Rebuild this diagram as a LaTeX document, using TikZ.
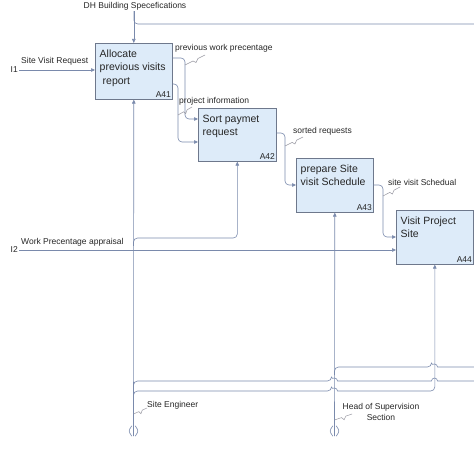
\documentclass[tikz,border=0pt]{standalone}
\usepackage{fontspec}
\setmainfont{Liberation Sans}
\usetikzlibrary{arrows.meta,calc}

\definecolor{boxfill}{RGB}{221,235,249}
\definecolor{boxline}{RGB}{110,120,140}
\definecolor{flowline}{RGB}{122,138,172}
\definecolor{squigline}{RGB}{150,150,160}

\tikzset{
  box/.style={draw=boxline, fill=boxfill, line width=0.6pt, minimum width=77pt, minimum height=54pt, inner sep=0pt, anchor=north west},
  boxtext/.style={anchor=north west, align=left, inner sep=0pt, text=black!85, font=\fontsize{10.5}{13.5}\selectfont},
  boxid/.style={anchor=south east, inner sep=1.5pt, text=black!85, font=\fontsize{8.5}{10}\selectfont},
  lbl/.style={inner sep=1pt, text=black!85, font=\fontsize{8.5}{11}\selectfont},
  feed/.style={draw=flowline, line width=0.6pt, rounded corners=4pt},
  flow/.style={feed, arrows={-Triangle[length=4pt,width=3.5pt,flowline]}},
  squig/.style={draw=squigline, line width=0.5pt},
  tun/.style={minimum width=6pt, minimum height=10pt, inner sep=0pt},
}
\newcommand{\zig}[2]{\draw[squig] (#1) -- ($(#1)!.4!(#2)$) -- ($(#1)!.55!(#2)+(0,3)$) -- ($(#1)!.65!(#2)$) -- (#2);}

\begin{document}
\begin{tikzpicture}[x=1pt,y=-1pt]
\useasboundingbox (0,0) rectangle (474,454);

% activities
\node[box, minimum height=56pt] (a41) at (95,43) {};
\node[box, minimum width=78pt, minimum height=53pt] (a42) at (198,108) {};
\node[box] (a43) at (296,158) {};
\node[box] (a44) at (396,210) {};
\node[boxtext] (t41) at ([xshift=4.5pt,yshift=-6.5pt]a41.north west) {Allocate\\previous visits\\\hspace{3pt}report};
\node[boxtext] (t42) at ([xshift=4.5pt,yshift=-6.5pt]a42.north west) {Sort paymet\\request};
\node[boxtext] (t43) at ([xshift=4.5pt,yshift=-6.5pt]a43.north west) {prepare Site\\visit Schedule};
\node[boxtext] (t44) at ([xshift=4.5pt,yshift=-6.5pt]a44.north west) {Visit Project\\Site};
\node[boxid] (n41) at (a41.south east) {A41};
\node[boxid] (n42) at (a42.south east) {A42};
\node[boxid] (n43) at (a43.south east) {A43};
\node[boxid] (n44) at (a44.south east) {A44};

% inputs
\node[lbl, anchor=east] (i1) at (19,70) {I1};
\node[lbl, anchor=west] (li1) at (20,61) {Site Visit Request};
\draw[flow] (i1.east) -- (a41.west |- i1.east);
\node[lbl, anchor=east] (i2) at (19,250) {I2};
\node[lbl, anchor=west] (li2) at (20,242) {Work Precentage appraisal};
\draw[flow] (i2.east) -- (a44.west |- i2.east);

% control
\node[lbl] (dh) at (135,6) {DH Building Specefications};
\coordinate (c0) at (474,24);
\draw[flow] (dh.south -| a41.north) -- (a41.north);
\draw[feed] (dh.south -| a41.north) |- (c0);

% outputs
\draw[flow] (a41.east |- 0,58) -| (185,119) -- (a42.west |- 0,119);
\draw[flow] (a41.east |- 0,84) -| (178,142) -- (a42.west |- 0,142);
\draw[flow] (a42.east |- 0,133) -| (285,185) -- (a43.west |- 0,185);
\draw[flow] (a43.east |- 0,185) -| (383,237) -- (a44.west |- 0,237);
\node[lbl, anchor=west] (o1) at (174,48) {previous work precentage};
\node[lbl, anchor=west] (o2) at (178,101) {project information};
\node[lbl, anchor=west] (o3) at (292,131) {sorted requests};
\node[lbl, anchor=west] (o4) at (387,182) {site visit Schedual};
\zig{185,65}{205,55}
\zig{178,115}{192,107}
\zig{285,146}{303,137}
\zig{383,196}{400,187}

% mechanisms
\node[tun] (se) at (133.5,431) {};
\node[tun] (hs) at (334.5,431) {};
\foreach \t in {se,hs} {
  \draw[feed] ([xshift=1.5pt]\t.north west) .. controls ([xshift=-2pt]\t.west) .. ([xshift=1.5pt]\t.south west);
  \draw[feed] ([xshift=-1.5pt]\t.north east) .. controls ([xshift=2pt]\t.east) .. ([xshift=-1.5pt]\t.south east);
}
\draw[flow] (se.south) -- (a41.south);
\draw[flow] (hs.south) -- (a43.south);
\draw[flow] (se |- 0,246) |- (a42.south |- 0,238) -- (a42.south);
\coordinate (m1) at (474,381);
\coordinate (m2) at (474,367);
\draw[feed] (se |- 0,389) |- (331.5,381) [sharp corners] arc[start angle=180,end angle=360,radius=3]
  -- (431.5,381) arc[start angle=180,end angle=360,radius=3] -- (m1);
\draw[flow] (se |- 0,399) |- (331.5,391) [sharp corners] arc[start angle=180,end angle=360,radius=3]
  [rounded corners=4pt] -- (a44.south |- 0,391) -- (a44.south);
\draw[feed] (hs |- 0,375) |- (431.5,367) [sharp corners] arc[start angle=180,end angle=360,radius=3] -- (m2);
\node[lbl, anchor=west] (mse) at (146,405) {Site Engineer};
\node[lbl, align=center] (mhs) at (381,412) {Head of Supervision\\Section};
\zig{133.5,414}{147,408}
\zig{334.5,420}{352,414}
\end{tikzpicture}
\end{document}
